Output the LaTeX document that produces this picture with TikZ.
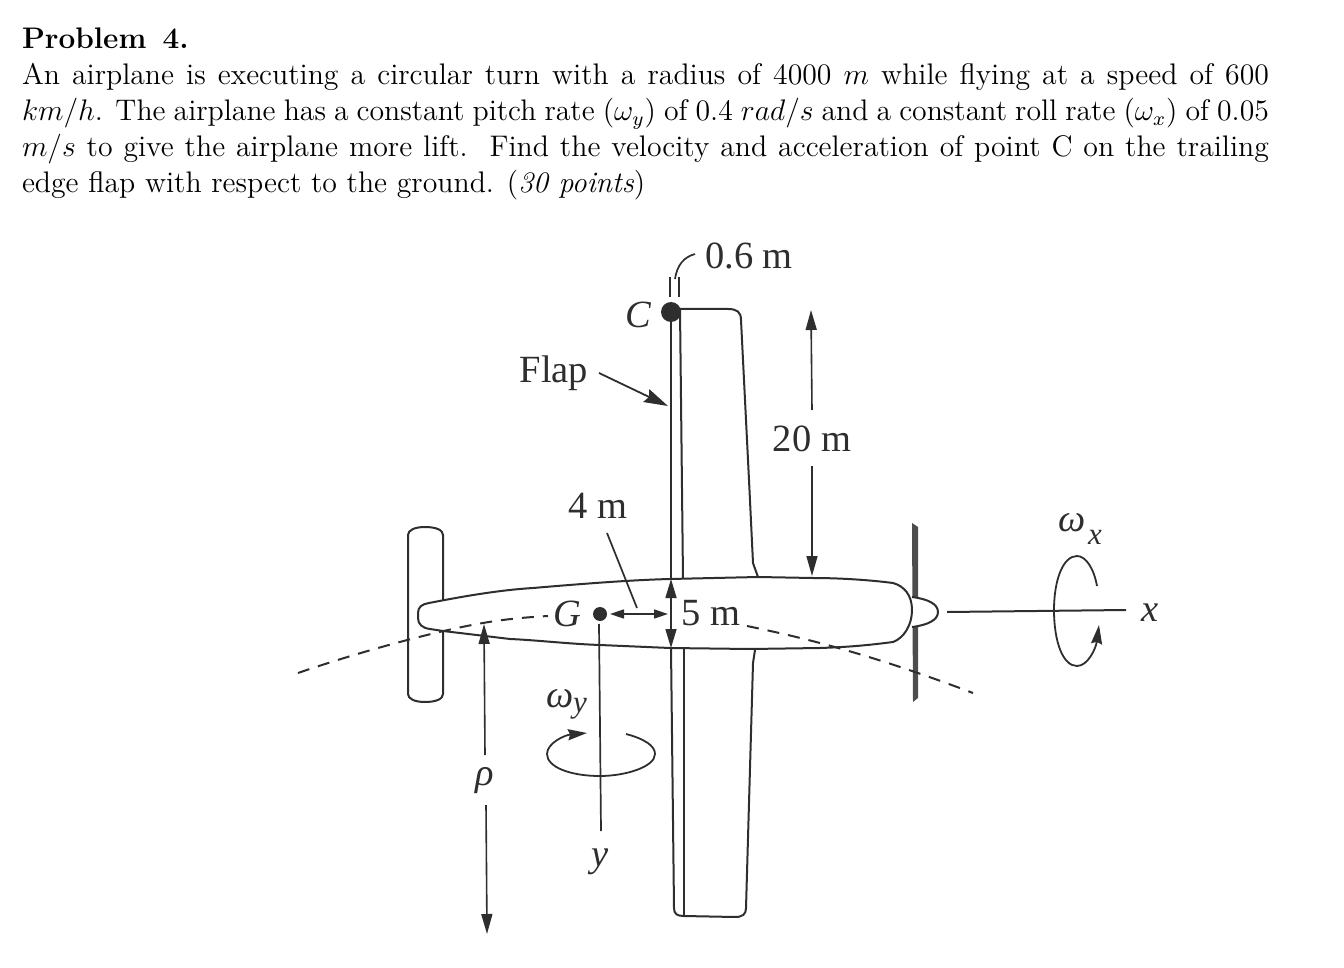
\documentclass[tikz,border=0pt]{standalone}
\usepackage[no-math]{fontspec}
\usetikzlibrary{arrows.meta}
\newfontfamily\figfont{Liberation Serif}
\definecolor{ink}{HTML}{2E2E2E}
\tikzset{
  textline/.style={anchor=base west,inner sep=0pt,outer sep=0pt,scale=2.48,transform shape,font=\fontsize{12}{14.5}\selectfont},
  figlabel/.style={inner sep=0pt,outer sep=0pt,text=ink,font=\figfont\fontsize{38.5}{40}\selectfont},
  figmath/.style={inner sep=0pt,outer sep=0pt,text=ink,font=\figfont\itshape\fontsize{38.5}{40}\selectfont},
  figsub/.style={inner sep=0pt,outer sep=0pt,text=ink,font=\figfont\itshape\fontsize{31}{32}\selectfont},
  body/.style={draw=ink,line width=2pt,line join=round},
  thin line/.style={draw=ink,line width=1.7pt},
  dashline/.style={draw=ink,line width=2pt,dash pattern=on 12pt off 9pt},
  dimarrow/.style={draw=ink,line width=1.6pt,-{Stealth[length=20pt,width=11pt,inset=0pt]}},
  flaparrow/.style={draw=ink,line width=1.8pt,-{Stealth[length=24pt,width=14pt,inset=3pt]}},
  dimboth/.style={draw=ink,line width=1.6pt,{Stealth[length=19pt,width=11pt,inset=0pt]}-{Stealth[length=19pt,width=11pt,inset=0pt]}},
  smallboth/.style={draw=ink,line width=1.6pt,{Stealth[length=14pt,width=9pt,inset=0pt]}-{Stealth[length=14pt,width=9pt,inset=0pt]}},
  turnarrow/.style={draw=ink,line width=1.8pt,-{Stealth[length=19pt,width=11pt,inset=2pt]}}
}
\begin{document}
\begin{tikzpicture}[x=1pt,y=-1pt]
\useasboundingbox (0,0) rectangle (1344,968);
% text
\node[textline] (title) at (22,49) {\textbf{Problem\hspace{6.5pt}4.}};
\node[textline] (l1) at (22,85) {\makebox[502.8pt][s]{An airplane is executing a circular turn with a radius of 4000 $m$ while flying at a speed of 600}};
\node[textline] (l2) at (22,121) {\makebox[502.8pt][s]{$km/h$. The airplane has a constant pitch rate ($\omega_y$) of 0.4 $rad/s$ and a constant roll rate ($\omega_x$) of 0.05}};
\node[textline] (l3) at (22,157) {\makebox[502.8pt][s]{$m/s$ to give the airplane more lift.\ \ Find the velocity and acceleration of point C on the trailing}};
\node[textline] (l4) at (22,193) {edge flap with respect to the ground. (\textit{30 points})};
% upper wing
\draw[body] (680,309) -- (728,309) .. controls (737,309) and (741,312) .. (741,320) -- (749,480) -- (753,563) -- (758,577);
\draw[body] (671,312) -- (671,580);
\draw[body] (680,309) -- (683,579);
% lower wing
\draw[body] (671,648) -- (674,908) .. controls (674,914) and (677,916) .. (684,916) -- (735,917) .. controls (743,917) and (746,914) .. (746,908) -- (753,663) -- (755,650);
\draw[body] (684,648) -- (684,916);
% tail
\draw[body] (408,535) .. controls (408,530) and (415,527) .. (425,527) .. controls (436,527) and (443,530) .. (443,535) -- (443,694) .. controls (443,699) and (436,702) .. (425,702) .. controls (415,702) and (408,699) .. (408,694) -- cycle;
% propeller
\fill[ink!85] (912,523) -- (918,527) -- (918,698) -- (913,702) -- cycle;
% spinner
\draw[body,fill=white] (912,597) .. controls (928,599) and (938,604) .. (938,612) .. controls (938,620) and (928,625) .. (912,627);
% fuselage
\draw[body,fill=white] (429,603) .. controls (465,596) and (500,590) .. (533,588) .. controls (580,584) and (630,580) .. (670,579) -- (758,577) -- (813,578) .. controls (840,578) and (870,580) .. (893,583) .. controls (904,586) and (912,595) .. (912,610) .. controls (912,625) and (904,638) .. (893,642) .. controls (870,645) and (850,647) .. (820,648) -- (750,649) -- (670,648) -- (600,645) .. controls (570,644) and (535,640) .. (510,639) .. controls (485,636) and (460,633) .. (443,631) -- (430,629) .. controls (422,628) and (418,624) .. (418,618) -- (418,613) .. controls (418,607) and (422,604) .. (429,603) -- cycle;
% path dashed
\draw[dashline] (298,673) .. controls (350,655) and (430,632) .. (483,623) .. controls (505,619) and (530,617) .. (548,616);
\draw[dashline] (747,626) .. controls (790,635) and (860,650) .. (973,693);
% labels in the body
\node[figmath] (G) at (567,614) {G};
\fill[ink] (600,614) circle (7pt);
\coordinate (dotG) at (600,614);
\node[figlabel] (fivem) at (711,613) {5 m};
\node[figlabel] (fourm) at (598,506) {4 m};
\node[figlabel] (flap) at (554,373) {Flap};
\node[figlabel] (sixm) at (749,256) {0.6 m};
\node[figlabel] (twentym) at (812,439) {20 m};
\node[figmath] (C) at (638,315) {C};
\node[figmath] (rho) at (485,781) {ρ};
\node[figmath] (wy) at (560,699) {ω};
\node[figsub] (wysub) at (580,709) {y};
\node[figmath] (wx) at (1072,523) {ω};
\node[figsub] (wxsub) at (1095,537) {x};
\node[figmath] (ylab) at (600,862) {y};
\node[figmath] (xlab) at (1150,613) {x};
% C dot and 0.6 m dimension
\fill[ink] (671,312) circle (10pt);
\coordinate (tickAa) at (670,277); \coordinate (tickAb) at (670,297);
\coordinate (tickBa) at (679,277); \coordinate (tickBb) at (679,297);
\coordinate (leadA) at (675,279); \coordinate (leadB) at (695,254);
\draw[thin line] (tickAa) -- (tickAb);
\draw[thin line] (tickBa) -- (tickBb);
\draw[thin line] (leadA) .. controls (677,265) and (684,257) .. (leadB);
% flap arrow
\coordinate (flapA) at (599,373); \coordinate (flapB) at (668,406);
\draw[flaparrow] (flapA) -- (flapB);
% 20 m
\coordinate (upA) at (812,410); \coordinate (upB) at (811,310);
\coordinate (dnA) at (812,466); \coordinate (dnB) at (812,576);
\draw[dimarrow] (upA) -- (upB);
\draw[dimarrow] (dnA) -- (dnB);
% 4 m and 5 m
\coordinate (leadC) at (607,533); \coordinate (leadD) at (637,608);
\draw[thin line] (leadC) -- (leadD);
\coordinate (fourA) at (610,614); \coordinate (fourB) at (668,614);
\draw[smallboth] (fourA) -- (fourB);
\coordinate (fiveA) at (671,579); \coordinate (fiveB) at (671,648);
\draw[dimboth] (fiveA) -- (fiveB);
% rho
\coordinate (rhoUpA) at (485,755); \coordinate (rhoUpB) at (484,624);
\coordinate (rhoDnA) at (486,805); \coordinate (rhoDnB) at (487,934);
\draw[dimarrow] (rhoUpA) -- (rhoUpB);
\draw[dimarrow] (rhoDnA) -- (rhoDnB);
% y axis and rotation
\coordinate (yTop) at (599,624); \coordinate (yEnd) at (601,831);
\draw[thin line] (yTop) -- (yEnd);
\coordinate (wyA) at (626,734); \coordinate (wyB) at (587,733);
\draw[turnarrow] (wyA) .. controls (645,739) and (655,746) .. (655,754) .. controls (655,767) and (625,776) .. (600,776) .. controls (570,776) and (547,767) .. (547,754) .. controls (547,743) and (565,735) .. (wyB);
% x axis and rotation
\coordinate (xStart) at (947,612); \coordinate (xEnd) at (1126,610);
\draw[thin line,line width=2pt] (xStart) -- (xEnd);
\coordinate (wxA) at (1097,586); \coordinate (wxB) at (1099,625);
\draw[turnarrow] (wxA) .. controls (1094,569) and (1086,556) .. (1077,556) .. controls (1063,556) and (1054,580) .. (1054,610) .. controls (1054,642) and (1063,666) .. (1077,666) .. controls (1088,666) and (1096,648) .. (wxB);
\end{tikzpicture}
\end{document}
